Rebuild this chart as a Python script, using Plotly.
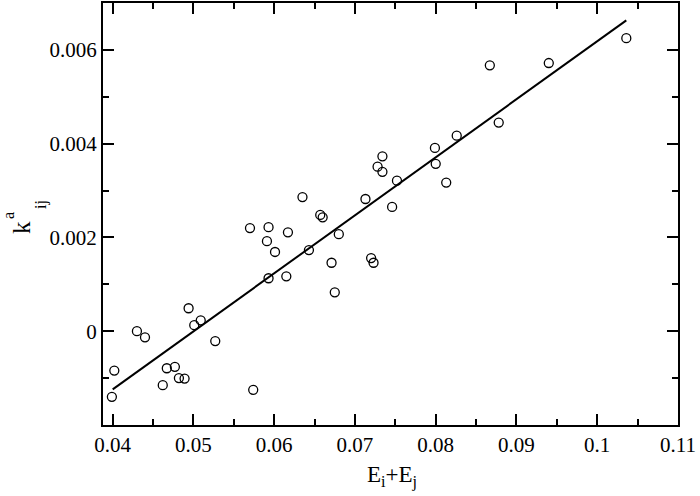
import plotly.graph_objects as go

# Data
e_sum = [0.0399, 0.0402, 0.0430, 0.0440, 0.0462, 0.0467, 0.0477, 0.0482, 0.0489,
         0.0494, 0.0501, 0.0509, 0.0527, 0.0574, 0.0570, 0.0593, 0.0591, 0.0593,
         0.0601, 0.0615, 0.0617, 0.0635, 0.0643, 0.0657, 0.0660, 0.0671, 0.0675,
         0.0680, 0.0713, 0.0720, 0.0723, 0.0728, 0.0734, 0.0734, 0.0746, 0.0752,
         0.0799, 0.0800, 0.0813, 0.0826, 0.0867, 0.0878, 0.0940, 0.1036]
k_a = [-0.00140, -0.00084, 0.00000, -0.00013, -0.00115, -0.00079, -0.00076, -0.00100,
       -0.00101, 0.00049, 0.00013, 0.00023, -0.00021, -0.00125, 0.00220, 0.00222,
       0.00192, 0.00113, 0.00169, 0.00117, 0.00211, 0.00286, 0.00173, 0.00248,
       0.00243, 0.00146, 0.00083, 0.00207, 0.00282, 0.00156, 0.00146, 0.00351,
       0.00373, 0.00340, 0.00265, 0.00321, 0.00391, 0.00357, 0.00317, 0.00417,
       0.00567, 0.00445, 0.00572, 0.00625]

fit_x = [0.0400, 0.1036]
fit_y = [-0.00124, 0.00663]

x_ticks = [0.04, 0.05, 0.06, 0.07, 0.08, 0.09, 0.1, 0.11]
x_tick_labels = ["0.04", "0.05", "0.06", "0.07", "0.08", "0.09", "0.1", "0.11"]
y_ticks = [0, 0.002, 0.004, 0.006]
y_tick_labels = ["0", "0.002", "0.004", "0.006"]

FONT = "Liberation Serif"
L, R, T, B = 103, 22, 1, 71
W, H = 700, 496
PW, PH = W - L - R, H - T - B


def px(xp):
    return (xp - L) / PW


def py(yp):
    return (H - B - yp) / PH


fig = go.Figure()
fig.add_trace(go.Scatter(x=fit_x, y=fit_y, mode="lines",
                         line=dict(color="black", width=2), showlegend=False))
fig.add_trace(go.Scatter(x=e_sum, y=k_a, mode="markers",
                         marker=dict(symbol="circle-open", size=9, color="black",
                                     line=dict(width=1.3, color="black")),
                         showlegend=False))

axis_common = dict(showline=True, linecolor="black", linewidth=2, mirror="allticks",
                   ticks="inside", ticklen=11, tickwidth=1.5, tickcolor="black",
                   showgrid=False, zeroline=False,
                   tickfont=dict(family=FONT, size=21, color="black"))

fig.update_xaxes(range=[0.0388, 0.11], tickvals=x_ticks, ticktext=x_tick_labels,
                 minor=dict(ticks="inside", ticklen=6, tickwidth=1.5, tickcolor="black",
                            tickvals=[0.045, 0.055, 0.065, 0.075, 0.085, 0.095, 0.105]),
                 **axis_common)
fig.update_yaxes(range=[-0.002, 0.007], tickvals=y_ticks, ticktext=y_tick_labels,
                 minor=dict(ticks="inside", ticklen=6, tickwidth=1.5, tickcolor="black",
                            tickvals=[-0.001, 0.001, 0.003, 0.005]),
                 **axis_common)

ann = [
    dict(text="E<sub>i</sub>+E<sub>j</sub>", x=px(392), y=py(477), size=23, angle=0),
    dict(text="k", x=px(22), y=py(227), size=25, angle=-90),
    dict(text="a", x=px(9), y=py(215), size=16, angle=-90),
    dict(text="ij", x=px(41), y=py(204), size=16, angle=-90),
]
for a in ann:
    fig.add_annotation(text=a["text"], x=a["x"], y=a["y"], xref="paper", yref="paper",
                       xanchor="center", yanchor="middle", showarrow=False,
                       textangle=a["angle"],
                       font=dict(family=FONT, size=a["size"], color="black"))

fig.update_layout(width=W, height=H, margin=dict(l=L, r=R, t=T, b=B),
                  plot_bgcolor="white", paper_bgcolor="white",
                  font=dict(family=FONT, color="black"))

fig.write_html("out.html", config={"displayModeBar": False},
               post_script="document.body.style.margin='0';")
